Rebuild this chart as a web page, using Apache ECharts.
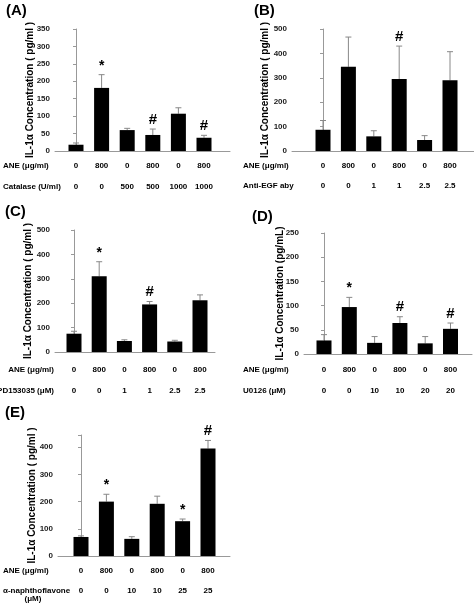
<!DOCTYPE html>
<html><head><meta charset="utf-8">
<script src="https://cdn.jsdelivr.net/npm/echarts@6/dist/echarts.min.js"></script>
<style>html,body{margin:0;padding:0;background:#fff}#c{width:474px;height:605px}</style>
</head><body><div id="c"></div>
<script>
// values
const aValues = [18, 181, 60, 46, 107, 38];
const aErrors = [5, 38, 5, 17, 17, 7];
const aMarks = ['', '*', '', '#', '', '#'];
const aAne = ['0', '800', '0', '800', '0', '800'];
const aTreat = ['0', '0', '500', '500', '1000', '1000'];

const bValues = [87, 345, 60, 295, 45, 290];
const bErrors = [38, 122, 23, 135, 18, 117];
const bMarks = ['', '', '', '#', '', ''];
const bAne = ['0', '800', '0', '800', '0', '800'];
const bTreat = ['0', '0', '1', '1', '2.5', '2.5'];

const cValues = [75, 310, 45, 195, 43, 212];
const cErrors = [10, 60, 5, 12, 5, 22];
const cMarks = ['', '*', '', '#', '', ''];
const cAne = ['0', '800', '0', '800', '0', '800'];
const cTreat = ['0', '0', '1', '1', '2.5', '2.5'];

const dValues = [28, 97, 23, 64, 22, 52];
const dErrors = [12, 20, 13, 13, 14, 12];
const dMarks = ['', '*', '', '#', '', '#'];
const dAne = ['0', '800', '0', '800', '0', '800'];
const dTreat = ['0', '0', '10', '10', '20', '20'];

const eValues = [70, 200, 63, 192, 128, 395];
const eErrors = [4, 27, 8, 28, 8, 30];
const eMarks = ['', '*', '', '', '*', '#'];
const eAne = ['0', '800', '0', '800', '0', '800'];
const eTreat = ['0', '0', '10', '10', '25', '25'];

const panels = [
  {tag:'(A)', tx:6, ty:12, ax:55, top:29, y0:151, xEnd:230, c0:76, step:25.6, max:350, interval:50,
   rows:[166,187], titleX:3, align:'left', ytX:30, yTitle:'IL-1α Concentration ( pg/ml )',
   names:['ANE (μg/ml)', 'Catalase (U/ml)'], v:aValues, e:aErrors, m:aMarks, r1:aAne, r2:aTreat},
  {tag:'(B)', tx:254, ty:12, ax:292, top:29, y0:151, xEnd:474, c0:323, step:25.4, max:500, interval:100,
   rows:[166,186], titleX:243, align:'left', ytX:265, yTitle:'IL-1α Concentration ( pg/ml )',
   names:['ANE (μg/ml)', 'Anti-EGF aby'], v:bValues, e:bErrors, m:bMarks, r1:bAne, r2:bTreat},
  {tag:'(C)', tx:5, ty:213, ax:55, top:230, y0:352, xEnd:215, c0:74, step:25.2, max:500, interval:100,
   rows:[370,391], titleX:54, align:'right', ytX:28, yTitle:'IL-1α Concentration ( pg/ml )',
   names:['ANE (μg/ml)', 'IPD153035 (μM)'], v:cValues, e:cErrors, m:cMarks, r1:cAne, r2:cTreat},
  {tag:'(D)', tx:252, ty:218, ax:304, top:233, y0:354, xEnd:472, c0:324, step:25.3, max:250, interval:50,
   rows:[370,391], titleX:243, align:'left', ytX:280, yTitle:'IL-1α Concentration (pg/mL)',
   names:['ANE (μg/ml)', 'U0126 (μM)'], v:dValues, e:dErrors, m:dMarks, r1:dAne, r2:dTreat},
  {tag:'(E)', tx:5, ty:414, ax:58, top:435, y0:556, xEnd:230, c0:81, step:25.4, max:445, interval:100,
   rows:[571,591], titleX:3, align:'left', ytX:32, yTitle:'IL-1α Concentration ( pg/ml )',
   names:['ANE (μg/ml)', 'α-naphthoflavone'], v:eValues, e:eErrors, m:eMarks, r1:eAne, r2:eTreat}
];

const font = 'Liberation Sans, Arial, sans-serif';
const grid = [], xAxis = [], yAxis = [], series = [], graphic = [];

panels.forEach((p, k) => {
  grid.push({left:p.ax, top:p.top, width:p.xEnd - p.ax, height:p.y0 - p.top});
  xAxis.push({gridIndex:k, type:'value', min:(p.ax - p.c0)/p.step, max:(p.xEnd - p.c0)/p.step,
    axisLine:{lineStyle:{color:'#999'}}, axisTick:{show:false}, axisLabel:{show:false}, splitLine:{show:false}});
  yAxis.push({gridIndex:k, type:'value', min:0, max:p.max, interval:p.interval,
    axisLine:{show:true, lineStyle:{color:'#999'}}, axisTick:{show:true, length:3, lineStyle:{color:'#999'}},
    splitLine:{show:false},
    axisLabel:{fontSize:8, fontWeight:'bold', color:'#222', fontFamily:font, margin:5,
      formatter: v => (v % p.interval === 0 ? v : '')}});
  const idx = p.v.map((v, i) => [i, v, p.e[i]]);
  series.push({type:'bar', xAxisIndex:k, yAxisIndex:k, barWidth:15, itemStyle:{color:'#000'},
    data:idx.map(d => [d[0], d[1]]), z:2});
  series.push({type:'custom', xAxisIndex:k, yAxisIndex:k, data:idx, z:1, renderItem:(params, api) => {
    const i = api.value(0), v = api.value(1), err = api.value(2);
    const b = api.coord([i, v]), t = api.coord([i, v + err]);
    const kids = [
      {type:'line', shape:{x1:b[0], y1:b[1], x2:t[0], y2:t[1]}, style:{stroke:'#888', lineWidth:1}},
      {type:'line', shape:{x1:t[0] - 3, y1:t[1], x2:t[0] + 3, y2:t[1]}, style:{stroke:'#888', lineWidth:1}}
    ];
    const mk = p.m[i];
    if (mk) kids.push({type:'text', style:{text:mk, x:t[0], y:t[1] - 2, align:'center', verticalAlign:'bottom',
      font:'bold ' + (mk === '*' ? 14 : 15) + 'px ' + font, fill:'#000'}});
    const base = api.coord([i, 0]);
    kids.push({type:'text', style:{text:p.r1[i], x:base[0], y:p.rows[0], align:'center', verticalAlign:'middle',
      font:'bold 8px ' + font, fill:'#000'}});
    kids.push({type:'text', style:{text:p.r2[i], x:base[0], y:p.rows[1], align:'center', verticalAlign:'middle',
      font:'bold 8px ' + font, fill:'#000'}});
    return {type:'group', children:kids};
  }});
  graphic.push({type:'text', left:p.tx, top:p.ty - 9, style:{text:p.tag, font:'bold 15px ' + font, fill:'#000'}});
  p.names.forEach((n, j) => {
    graphic.push({type:'text', x:p.titleX, y:p.rows[j], style:{text:n, align:p.align, verticalAlign:'middle',
      font:'bold 8px ' + font, fill:'#000'}});
  });
  graphic.push({type:'text', x:p.ytX, y:(p.top + p.y0) / 2, rotation:Math.PI / 2,
    style:{text:p.yTitle, align:'center', verticalAlign:'middle', font:'bold 10px ' + font, fill:'#000'}});
});
graphic.push({type:'text', x:33, y:599, style:{text:'(μM)', align:'center', verticalAlign:'middle',
  font:'bold 8px ' + font, fill:'#000'}});

const chart = echarts.init(document.getElementById('c'));
chart.setOption({animation:false, grid, xAxis, yAxis, series, graphic});
</script></body></html>
